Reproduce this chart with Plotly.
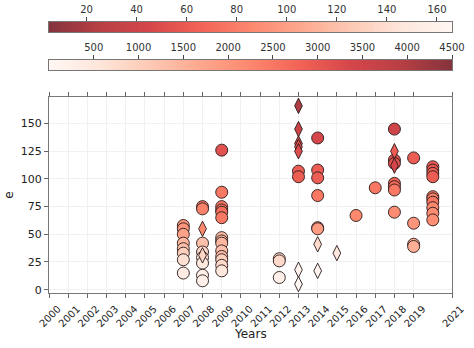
import numpy as np
import plotly.graph_objects as go

# ---- data ----
circle_years = ([2007] * 8 + [2008] * 8 + [2009] * 14 + [2012] * 3 + [2013] * 2 +
                [2014] * 6 + [2016] + [2017] + [2018] * 7 + [2019] * 4 + [2020] * 10)
circle_e = [58, 55, 50, 42, 37, 33, 27, 15,
            75, 73, 42, 34, 29, 24, 13, 8,
            126, 88, 75, 72, 70, 65, 47, 44, 42, 35, 30, 27, 22, 17,
            28, 26, 11,
            107, 102,
            137, 108, 101, 85, 56, 55,
            67,
            92,
            145, 117, 114, 96, 93, 90, 70,
            119, 60, 41, 39,
            111, 108, 105, 102, 84, 82, 79, 74, 69, 63]
circle_c = [2020, 2020, 1800, 1440, 1260, 990, 680, 360,
            2480, 2340, 1260, 810, 680, 450, 270, 220,
            3150, 2480, 2480, 2480, 2610, 2480, 1350, 1350, 1440, 1260, 1350, 990, 810, 540,
            900, 810, 220,
            2920, 2920,
            3380, 2920, 2920, 2480, 2020, 1890,
            2250,
            2480,
            3510, 3060, 3150, 2790, 2700, 2480, 2160,
            2920, 2020, 1580, 1580,
            2920, 3020, 2840, 2920, 2480, 2340, 2480, 2250, 2160, 2160]

diamond_years = [2008, 2008, 2013, 2013, 2013, 2013, 2013, 2013, 2013,
                 2014, 2014, 2015, 2018, 2018]
diamond_e = [55, 31, 166, 145, 132, 129, 125, 18, 5, 41, 17, 33, 125, 112]
diamond_c = [86, 135, 21, 40, 53, 56, 50, 161, 164, 138, 163, 148, 62, 45]

year_ticks = list(range(2000, 2020)) + [2021]
year_labels = [str(y) for y in year_ticks]
e_ticks = [0, 25, 50, 75, 100, 125, 150]
cb_top_range = [5, 166]
cb_top_ticks = [20, 40, 60, 80, 100, 120, 140, 160]
cb_bottom_range = [0, 4500]
cb_bottom_ticks = [500, 1000, 1500, 2000, 2500, 3000, 3500, 4000, 4500]

# matplotlib "Reds" at alpha 0.8 over white
reds = [[0.0, "rgb(255,247,243)"], [0.125, "rgb(254,230,219)"], [0.25, "rgb(253,201,180)"],
        [0.375, "rgb(253,168,142)"], [0.5, "rgb(252,136,110)"], [0.625, "rgb(242,98,86)"],
        [0.75, "rgb(213,70,74)"], [0.875, "rgb(183,63,68)"], [1.0, "rgb(133,51,61)"]]
reds_r = [[round(1 - p, 3), c] for p, c in reversed(reds)]

font = "DejaVu Sans, Liberation Sans, sans-serif"
edge = dict(color="rgba(40,25,25,0.9)", width=1)

fig = go.Figure()
fig.add_trace(go.Scatter(
    x=circle_years, y=circle_e, mode="markers", showlegend=False, hoverinfo="x+y",
    marker=dict(symbol="circle", size=12, color=circle_c, colorscale=reds,
                cmin=cb_bottom_range[0], cmax=cb_bottom_range[1], line=edge,
                showscale=False)))
fig.add_trace(go.Scatter(
    x=diamond_years, y=diamond_e, mode="markers", showlegend=False, hoverinfo="x+y",
    marker=dict(symbol="diamond-tall", size=11, color=diamond_c, colorscale=reds_r,
                cmin=cb_top_range[0], cmax=cb_top_range[1], line=edge,
                showscale=False)))

# colour bars drawn as gradient strips on their own axes (ticks on top)
g_top = np.linspace(cb_top_range[0], cb_top_range[1], 300)
fig.add_trace(go.Heatmap(x=g_top, y=[0], z=[g_top], colorscale=reds_r,
                         zmin=cb_top_range[0], zmax=cb_top_range[1], showscale=False,
                         hoverinfo="skip", xaxis="x2", yaxis="y2"))
g_bot = np.linspace(cb_bottom_range[0], cb_bottom_range[1], 300)
fig.add_trace(go.Heatmap(x=g_bot, y=[0], z=[g_bot], colorscale=reds,
                         zmin=cb_bottom_range[0], zmax=cb_bottom_range[1], showscale=False,
                         hoverinfo="skip", xaxis="x3", yaxis="y3"))

cb_x = dict(side="top", ticks="outside", ticklen=4, tickcolor="#444", showline=True,
            linecolor="#777", linewidth=1, mirror=True, showgrid=False, zeroline=False,
            tickfont=dict(size=10, color="#333"), domain=[0, 1], automargin=False)
cb_y = dict(range=[-0.5, 0.5], showline=True, linecolor="#777", linewidth=1, mirror=True,
            showticklabels=False, ticks="", showgrid=False, zeroline=False,
            automargin=False)

fig.update_layout(
    width=474, height=348, margin=dict(l=49, r=22, t=10, b=55),
    paper_bgcolor="white", plot_bgcolor="white",
    font=dict(family=font, size=11, color="#222"),
    xaxis=dict(range=[2000, 2021], tickvals=year_ticks, ticktext=year_labels,
               tickangle=-45, ticks="outside", ticklen=4, tickcolor="#666",
               ticklabelshift=9, ticklabelstandoff=1,
               showline=True, linecolor="#777", linewidth=1.3, mirror="ticks",
               showgrid=True, gridcolor="#f0f0f0", gridwidth=1, zeroline=False,
               tickfont=dict(size=10, color="#222"), anchor="y", automargin=False),
    yaxis=dict(range=[-3, 174], tickvals=e_ticks, ticks="outside", ticklen=4,
               domain=[0, 0.6926], anchor="x", automargin=False,
               tickcolor="#666", showline=True, linecolor="#777", linewidth=1.3,
               mirror=True, showgrid=True, gridcolor="#f0f0f0", gridwidth=1,
               zeroline=False, tickfont=dict(size=11, color="#222"),
               title=dict(text="e", font=dict(size=12), standoff=4)),
    xaxis2=dict(cb_x, range=cb_top_range, tickvals=cb_top_ticks, anchor="y2"),
    yaxis2=dict(cb_y, domain=[0.9223, 0.9576], anchor="x2"),
    xaxis3=dict(cb_x, range=cb_bottom_range, tickvals=cb_bottom_ticks, anchor="y3"),
    yaxis3=dict(cb_y, domain=[0.788, 0.8233], anchor="x3"),
    annotations=[dict(text="Years", xref="paper", yref="paper", x=0.5, y=-0.145,
                      xanchor="center", yanchor="middle", showarrow=False,
                      font=dict(size=12, color="#222"))],
)

fig.write_html("out.html")
